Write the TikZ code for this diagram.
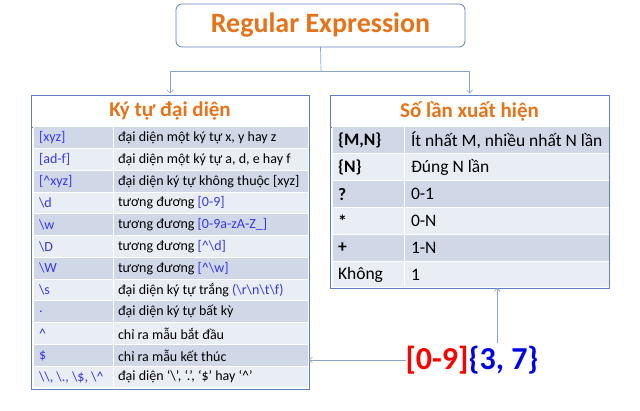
\documentclass[tikz,border=0pt]{standalone}
\usepackage{fontspec}
\setmainfont{Carlito}
\usetikzlibrary{arrows.meta}
\definecolor{frameblue}{RGB}{95,130,190}
\definecolor{linkblue}{RGB}{140,165,205}
\definecolor{titleorange}{RGB}{230,115,25}
\definecolor{rowdark}{RGB}{208,216,232}
\definecolor{rowlight}{RGB}{233,237,244}
\definecolor{keyblue}{RGB}{55,55,235}
\definecolor{patred}{RGB}{255,0,0}
\definecolor{patblue}{RGB}{0,0,230}
\begin{document}
\begin{tikzpicture}[
    x=1pt, y=-1pt,
    every node/.style={
        inner sep=0pt,
        outer sep=0pt,
    },
    topbox/.style={
        draw=frameblue, line width=.8pt,
        rounded corners=6pt, fill=white,
        minimum width=289pt, minimum height=43pt,
        font=\fontsize{28}{32}\selectfont\bfseries,
        text=titleorange,
    },
    tabframe/.style n args={2}{
        draw=frameblue, line width=.8pt,
        anchor=north west,
        minimum width=#1pt, minimum height=#2pt,
    },
    tabtitle/.style={
        anchor=north west,
        minimum width=#1pt, minimum height=32pt,
        font=\fontsize{21}{25}\selectfont\bfseries,
        text=titleorange,
    },
    cell/.style n args={2}{
        anchor=north west,
        draw=white, line width=1pt,
        minimum width=#1pt, minimum height=#2pt,
    },
    row1/.style={fill=rowdark},
    row0/.style={fill=rowlight},
    ltext/.style={anchor=west, font=\fontsize{14}{16}\selectfont},
    rtext/.style={anchor=west, font=\fontsize{17.5}{20}\selectfont},
    link/.style={
        draw=linkblue, line width=.7pt,
        -{Straight Barb[length=3pt,width=6pt]},
    },
    pattern/.style={
        font=\fontsize{32}{36}\selectfont\bfseries,
    },
]
    \useasboundingbox (0,0) rectangle (640,411);
    \node[topbox] (regex) at (320.5,25.5) {Regular Expression};

    % left table
    \node[tabframe={278}{294}] (ltab) at (31,95) {};
    \node[tabtitle=278] (ltitle) at (31,95) {Ký tự đại diện};
    \draw[frameblue, line width=.8pt] (ltitle.south west) -- (ltitle.south east);
    \foreach \a/\b [count=\i, evaluate=\i as \s using {int(mod(\i,2))},
                    evaluate=\i as \y using {127+(\i-1)*21.75}] in {%
        {[xyz]}/{đại diện một ký tự x, y hay z},
        {[ad-f]}/{đại diện một ký tự a, d, e hay f},
        {[\textasciicircum xyz]}/{đại diện ký tự không thuộc [xyz]},
        {\textbackslash d}/{tương đương \textcolor{keyblue}{[0-9]}},
        {\textbackslash w}/{tương đương \textcolor{keyblue}{[0-9a-zA-Z\_]}},
        {\textbackslash D}/{tương đương \textcolor{keyblue}{[\textasciicircum\textbackslash d]}},
        {\textbackslash W}/{tương đương \textcolor{keyblue}{[\textasciicircum\textbackslash w]}},
        {\textbackslash s}/{đại diện ký tự trắng \textcolor{keyblue}{(\textbackslash r\textbackslash n\textbackslash t\textbackslash f)}},
        {.}/{đại diện ký tự bất kỳ},
        {\textasciicircum}/{chỉ ra mẫu bắt đầu},
        {\$}/{chỉ ra mẫu kết thúc},
        {\textbackslash\textbackslash, \textbackslash., \textbackslash\$, \textbackslash\textasciicircum}/{đại diện ‘\textbackslash’, ‘.’, ‘\$’ hay ‘\textasciicircum’}%no comma after
    }{
        \node[cell={80}{21.75}, row\s] (lk\i) at (33,\y) {};
        \node[cell={195}{21.75}, row\s] (lv\i) at (113,\y) {};
        \node[ltext, text=keyblue] (tk\i) at ([xshift=6pt]lk\i.west) {\a};
        \node[ltext] (tv\i) at ([xshift=5pt]lv\i.west) {\b};
    }

    % right table
    \node[tabframe={279}{193}] (rtab) at (330,95) {};
    \node[tabtitle=279] (rtitle) at (330,95) {Số lần xuất hiện};
    \draw[frameblue, line width=.8pt] (rtitle.south west) -- (rtitle.south east);
    \foreach \a/\b [count=\i, evaluate=\i as \s using {int(mod(\i,2))},
                    evaluate=\i as \y using {127+(\i-1)*26.83}] in {%
        {\bfseries\{M,N\}}/{Ít nhất M, nhiều nhất N lần},
        {\bfseries\{N\}}/{Đúng N lần},
        {\bfseries ?}/{0-1},
        {\bfseries *}/{0-N},
        {\bfseries +}/{1-N},
        {Không}/{1}%no comma after
    }{
        \node[cell={72}{26.83}, row\s] (rk\i) at (332,\y) {};
        \node[cell={205}{26.83}, row\s] (rv\i) at (404,\y) {};
        \node[rtext] (sk\i) at ([xshift=6pt]rk\i.west) {\a};
        \node[rtext] (sv\i) at ([xshift=7pt]rv\i.west) {\b};
    }
    \draw[frameblue, line width=.8pt] (rtab.north west) rectangle (rtab.south east);

    % connectors
    \coordinate (split) at (321,71);
    \draw[link, -] (regex.south) -- (split);
    \draw[link, shorten >=1.5pt] (split) -| (ltab.north);
    \draw[link, shorten >=1.5pt] (split) -| (rtab.north);

    \node[pattern] (pat) at (472,360)
        {\textcolor{patred}{[0-9]}\textcolor{patblue}{\{3, 7\}}};
    \coordinate (upfoot) at (497,343);
    \draw[link] (pat.west) -- (pat.west -| ltab.east);
    \draw[link] (upfoot) -- (upfoot |- rtab.south);
\end{tikzpicture}
\end{document}
